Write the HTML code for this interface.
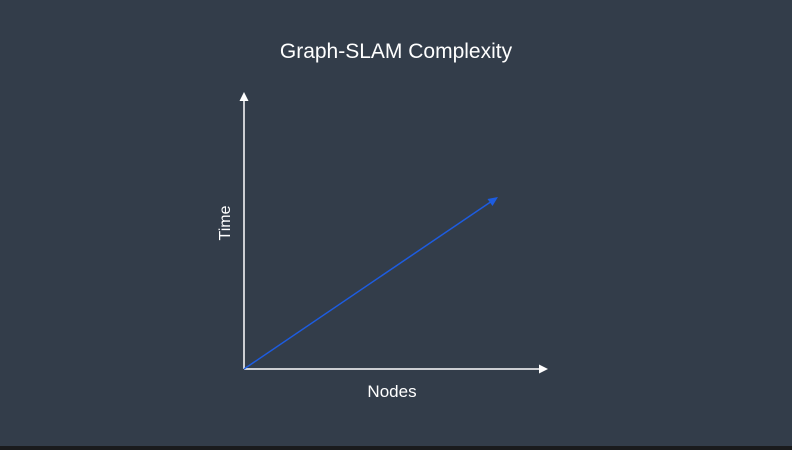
<!DOCTYPE html>
<html><head><style>
html,body{margin:0;padding:0;}
body{width:792px;height:450px;background:#333d4a;overflow:hidden;position:relative;font-family:"Liberation Sans",sans-serif;}
</style></head><body>
<svg width="792" height="450" style="position:absolute;left:0;top:0">
<rect x="0" y="446" width="792" height="4" fill="#1a1b1d"/>
<text x="396" y="58" fill="#ffffff" font-size="21" text-anchor="middle" font-family="Liberation Sans, sans-serif">Graph-SLAM Complexity</text>
<line x1="244" y1="369" x2="244" y2="100" stroke="#fff" stroke-width="1.5"/>
<polygon points="244,92 239.5,101 248.5,101" fill="#fff"/>
<line x1="244" y1="369" x2="540" y2="369" stroke="#fff" stroke-width="1.5"/>
<polygon points="548,369 539,364.5 539,373.5" fill="#fff"/>
<line x1="244" y1="369" x2="492" y2="201" stroke="#1d5ce0" stroke-width="1.5"/>
<polygon points="498,197 487.5,199 492.5,206" fill="#1d5ce0"/>
<text x="392" y="397" fill="#ffffff" font-size="17" text-anchor="middle" font-family="Liberation Sans, sans-serif">Nodes</text>
<text transform="translate(230,223) rotate(-90)" fill="#ffffff" font-size="16" text-anchor="middle" font-family="Liberation Sans, sans-serif">Time</text>
</svg>
</body></html>
